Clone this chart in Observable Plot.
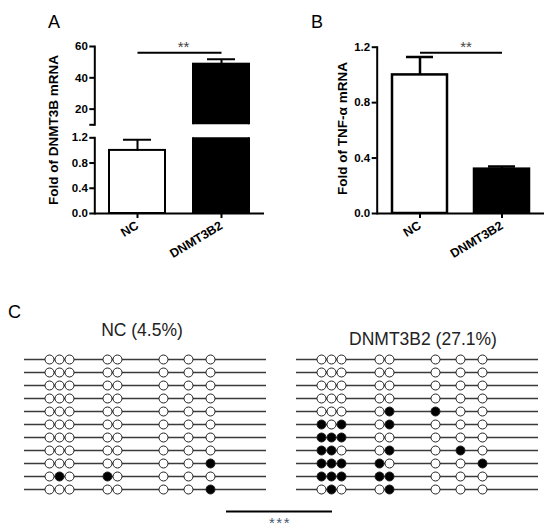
<!DOCTYPE html>
<html><head><meta charset="utf-8">
<script src="https://cdn.jsdelivr.net/npm/d3@7"></script>
<script src="https://cdn.jsdelivr.net/npm/@observablehq/plot@0.6"></script>
<style>
body{margin:0;background:#fff;}
#fig{position:relative;width:550px;height:532px;overflow:hidden;background:#fff;font-family:"Liberation Sans",Arial,sans-serif;}
#fig .panel{position:absolute;}
#fig svg{overflow:visible;display:block;}
</style></head><body><div id="fig"></div>
<script>
// ---------- data ----------
const categories = ["NC", "DNMT3B2"];
const dnmt3bMean = [1.0, 48.7];
const dnmt3bSem = [0.17, 3.1];
const tnfMean = [1.0, 0.32];
const tnfSem = [0.13, 0.02];
const lowerTicksA = [0, 0.4, 0.8, 1.2];
const upperTicksA = [10, 20, 40, 60];
const ticksB = [0, 0.4, 0.8, 1.2];
const axisBreakA = [1.2, 10];       // top of lower segment, bottom of upper segment
const upperMaxA = 60;
const sigLabel = "**";
const sigLevelA = 56;
const sigLevelB = 1.16;
const cpgSites = [25, 35, 45, 83, 93, 139, 164, 186];   // CpG positions along the amplicon
const ampliconLength = 242;
const ncClones = ["00000000","00000000","00000000","00000000","00000000","00000000",
                  "00000000","00000000","00000001","01010000","00000001"];
const dnmtClones = ["00000000","00000000","00000000","00000000","00001100","10101000",
                    "11100000","11001010","11110001","11111000","01001000"];
const ncLabel = "NC (4.5%)";
const dnmtLabel = "DNMT3B2 (27.1%)";
const titleA = "Fold of DNMT3B mRNA";
const titleB = "Fold of TNF-\u03b1 mRNA";
const sigLabelC = "***";

// ---------- helpers ----------
const FONT = "Liberation Sans, Arial, sans-serif";
const fig = document.getElementById("fig");
function place(node, left, top) {
  const d = document.createElement("div");
  d.className = "panel";
  d.style.left = left + "px";
  d.style.top = top + "px";
  d.appendChild(node);
  fig.appendChild(d);
}
function rowsOf(mean, sem) {
  return categories.map((c, i) => ({cat: c, mean: mean[i], sem: sem[i]}));
}
const xBand = {domain: categories, paddingInner: 0.33, paddingOuter: 0.175};
function barMarks(rows, sw = 2) {
  return [
    Plot.barY(rows, {x: "cat", y: "mean", fill: d => d.cat === categories[0] ? "white" : "black",
      stroke: "black", strokeWidth: sw, clip: true}),
    Plot.link(rows, {x1: "cat", x2: "cat", y1: "mean", y2: d => d.mean + d.sem,
      stroke: "black", strokeWidth: sw, clip: true}),
    Plot.tickY(rows, {x: "cat", y: d => d.mean + d.sem, stroke: "black", strokeWidth: sw,
      insetLeft: 14, insetRight: 14, clip: true})
  ];
}
const yAxisOpts = {tickSize: 5, tickPadding: 2, strokeWidth: 2, fontSize: 11.5, fontWeight: "bold", label: null, fill: "black"};
const xAxisOpts = {tickSize: 5, tickPadding: 6, tickRotate: -31, textAnchor: "end", strokeWidth: 2,
  fontSize: 12.5, fontWeight: "bold", label: null, fill: "black"};
const style = {background: "none", overflow: "visible", fontFamily: FONT, color: "black"};
function sigMarks(level) {
  const s = [{from: categories[0], to: categories[1], y: level, label: sigLabel}];
  return [
    Plot.link(s, {x1: "from", x2: "to", y1: "y", y2: "y", stroke: "black", strokeWidth: 2}),
    Plot.text(s, {x: "from", y: "y", text: "label", dx: 46, dy: -6, fill: "#444", fontSize: 15})
  ];
}

// ---------- panel A (broken axis) ----------
const rowsA = rowsOf(dnmt3bMean, dnmt3bSem);
const aUpper = Plot.plot({
  width: 275, height: 130, marginTop: 46, marginBottom: 5.7, marginLeft: 94.3, marginRight: 11,
  style, color: {type: "identity"},
  x: {...xBand, axis: null},
  y: {domain: [axisBreakA[1], upperMaxA]},
  marks: [
    ...barMarks(rowsA),
    Plot.axisY({...yAxisOpts, ticks: upperTicksA, tickFormat: d => d === axisBreakA[1] ? "" : d3.format("d")(d)}),
    Plot.frame({anchor: "left", strokeWidth: 2}),
    ...sigMarks(sigLevelA)
  ]
});
place(aUpper, 0, 0);

const aLower = Plot.plot({
  width: 275, height: 140, marginTop: 7.3, marginBottom: 57, marginLeft: 94.3, marginRight: 11,
  style, color: {type: "identity"},
  x: xBand,
  y: {domain: [0, axisBreakA[0]]},
  marks: [
    ...barMarks(rowsA),
    Plot.axisY({...yAxisOpts, ticks: lowerTicksA, tickFormat: d3.format(".1f")}),
    Plot.axisX(xAxisOpts),
    Plot.frame({anchor: "left", strokeWidth: 2}),
    Plot.ruleY([0], {strokeWidth: 2})
  ]
});
place(aLower, 0, 130);

// ---------- panel B ----------
const rowsB = rowsOf(tnfMean, tnfSem);
const bChart = Plot.plot({
  width: 275, height: 270, marginTop: 46.7, marginBottom: 57, marginLeft: 101.7, marginRight: 6,
  style, color: {type: "identity"},
  x: xBand,
  y: {domain: [0, 1.2]},
  marks: [
    ...barMarks(rowsB, 2.5),
    Plot.axisY({...yAxisOpts, ticks: ticksB, tickFormat: d3.format(".1f")}),
    Plot.axisX(xAxisOpts),
    Plot.frame({anchor: "left", strokeWidth: 2}),
    Plot.ruleY([0], {strokeWidth: 2}),
    ...sigMarks(sigLevelB)
  ]
});
place(bChart, 275, 0);

// ---------- panel C (bisulfite sequencing lollipops) ----------
function cloneChart(clones, width, mLeft, mRight) {
  const rows = d3.range(clones.length);
  const cells = clones.flatMap((s, r) => [...s].map((m, k) => ({row: r, site: cpgSites[k], m: +m})));
  return Plot.plot({
    width, height: 242, marginTop: 65.7, marginBottom: 39.3, marginLeft: mLeft, marginRight: mRight,
    style, color: {type: "identity"},
    x: {domain: [0, ampliconLength], axis: null},
    y: {type: "point", domain: rows, padding: 0, axis: null},
    marks: [
      Plot.ruleY(rows, {y: d => d, x1: 0, x2: ampliconLength, stroke: "#3a3a3a", strokeWidth: 1.4}),
      Plot.dot(cells, {x: "site", y: "row", r: 4.5, fill: d => d.m ? "black" : "white",
        stroke: "#222", strokeWidth: 1})
    ]
  });
}
place(cloneChart(ncClones, 280, 24, 14), 0, 290);
place(cloneChart(dnmtClones, 270, 16, 12), 280, 290);

// ---------- text overlay ----------
const ov = d3.create("svg").attr("width", 550).attr("height", 532)
  .style("position", "absolute").style("left", 0).style("top", 0)
  .style("font-family", FONT);
function txt(s, x, y, opts = {}) {
  const t = ov.append("text").attr("x", x).attr("y", y).text(s)
    .attr("font-size", opts.size || 12).attr("font-weight", opts.weight || "normal")
    .attr("text-anchor", opts.anchor || "start").attr("fill", opts.fill || "black");
  if (opts.transform) t.attr("transform", opts.transform).attr("x", 0).attr("y", 0);
  if (opts.ls) t.attr("letter-spacing", opts.ls);
  return t;
}
txt("A", 48, 28, {size: 18});
txt("B", 311, 28, {size: 18});
txt("C", 8, 318, {size: 18});
txt(titleA, 0, 0, {size: 13.5, weight: "bold", anchor: "middle", transform: "translate(58,130) rotate(-90)"});
txt(titleB, 0, 0, {size: 13.5, weight: "bold", anchor: "middle", transform: "translate(346.5,128.5) rotate(-90)"});
txt(ncLabel, 142, 336, {size: 17.5, anchor: "middle", fill: "#222"});
txt(dnmtLabel, 423, 345, {size: 17.5, anchor: "middle", fill: "#222"});
ov.append("line").attr("x1", 226).attr("x2", 332).attr("y1", 511.5).attr("y2", 511.5)
  .attr("stroke", "black").attr("stroke-width", 2);
txt(sigLabelC, 280, 528, {size: 15, anchor: "middle", fill: "#4a5a70", ls: 1.5});
fig.appendChild(ov.node());
</script></body></html>
